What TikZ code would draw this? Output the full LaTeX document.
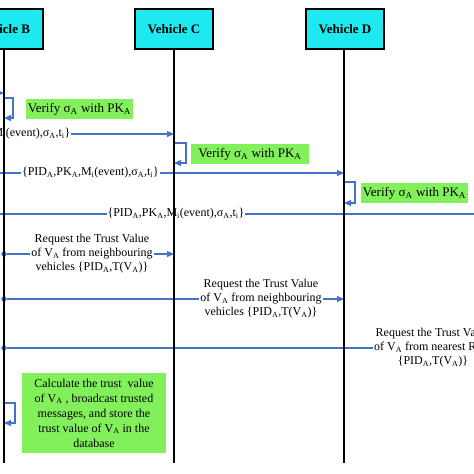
\documentclass[tikz,border=0pt]{standalone}
\usepackage{fontspec}
\setmainfont{Liberation Serif}
\usetikzlibrary{arrows.meta}
\definecolor{headcyan}{RGB}{30,232,240}
\definecolor{boxgreen}{RGB}{130,240,90}
\definecolor{msgblue}{RGB}{68,114,196}
\tikzset{
  headbox/.style={draw=black, line width=1.6pt, fill=headcyan, minimum width=78pt, minimum height=40pt, inner sep=0pt, font=\bfseries\fontsize{13}{15}\selectfont},
  lifeline/.style={draw=black, line width=1.6pt},
  msg/.style={draw=msgblue, line width=1.3pt, -{Triangle[length=7pt,width=6pt]}},
  plainmsg/.style={draw=msgblue, line width=1.3pt},
  lbl/.style={fill=white, inner sep=1pt, align=center, font=\fontsize{12}{14}\selectfont},
  greenbox/.style={fill=boxgreen, inner sep=0pt, align=center, font=\fontsize{12}{15}\selectfont},
  verifytext/.style={font=\fontsize{13}{15}\selectfont},
  startdot/.style={circle, fill=msgblue, inner sep=0pt, minimum size=5.5pt},
}
\begin{document}
\begin{tikzpicture}[x=1pt, y=-1pt]
\useasboundingbox (0,0) rectangle (474,474);
\clip (0,0) rectangle (474,474);
\fill[white] (0,0) rectangle (474,474);
% headers
\node[headbox] (hB) at (4,29) {Vehicle B};
\node[headbox] (hC) at (174,29) {Vehicle C};
\node[headbox] (hD) at (345,29) {Vehicle D};
\coordinate (Bend) at (4,463);
\coordinate (Cend) at (174,463);
\coordinate (Dend) at (344,463);
% points
\coordinate (a0) at (-40,93);
\coordinate (b0) at (4,93);
\coordinate (b1) at (4,98);
\coordinate (b2) at (4,118);
\coordinate (a1) at (-150,134);
\coordinate (c0) at (174,134);
\coordinate (c1) at (174,143);
\coordinate (c2) at (174,163);
\coordinate (a2) at (-150,173);
\coordinate (d0) at (344,173);
\coordinate (d1) at (344,182);
\coordinate (d2) at (344,203);
\coordinate (a3) at (-150,214);
\coordinate (e3) at (600,214);
\coordinate (c4) at (174,254);
\coordinate (d5) at (344,299);
\coordinate (r6) at (600,348);
\coordinate (b7) at (4,403);
\coordinate (b8) at (4,423);
% message to B
\draw[msg] (a0) -- (b0);
\draw[msg] (b1) -- ++(9,0) |- (b2);
\node[greenbox, verifytext, minimum width=107pt, minimum height=20pt] (vB) at (79.5,109) {Verify σ\textsubscript{A} with PK\textsubscript{A}};
% message to C
\draw[msg] (a1) -- (c0);
\node[lbl] (m1) at (2,134) {\{PID\textsubscript{A},PK\textsubscript{A},M\textsubscript{i}(event),σ\textsubscript{A},t\textsubscript{i}\}};
\draw[msg] (c1) -- ++(12,0) |- (c2);
\node[greenbox, verifytext, minimum width=118pt, minimum height=20pt] (vC) at (250,154) {Verify σ\textsubscript{A} with PK\textsubscript{A}};
% message to D
\draw[msg] (a2) -- (d0);
\node[lbl] (m2) at (90.5,173) {\{PID\textsubscript{A},PK\textsubscript{A},M\textsubscript{i}(event),σ\textsubscript{A},t\textsubscript{i}\}};
\draw[msg] (d1) -- ++(11,0) |- (d2);
\node[greenbox, verifytext, minimum width=107pt, minimum height=20pt] (vD) at (414.5,193) {Verify σ\textsubscript{A} with PK\textsubscript{A}};
% message onwards
\draw[plainmsg] (a3) -- (e3);
\node[lbl] (m3) at (176,214) {\{PID\textsubscript{A},PK\textsubscript{A},M\textsubscript{i}(event),σ\textsubscript{A},t\textsubscript{i}\}};
% requests
\node[startdot] (s1) at (4,254) {};
\draw[msg] (s1) -- (c4);
\node[lbl] (q1) at (92,254) {Request the Trust Value\\of V\textsubscript{A} from neighbouring\\vehicles \{PID\textsubscript{A},T(V\textsubscript{A})\}};
\node[startdot] (s2) at (4,299) {};
\draw[msg] (s2) -- (d5);
\node[lbl] (q2) at (261,299) {Request the Trust Value\\of V\textsubscript{A} from neighbouring\\vehicles \{PID\textsubscript{A},T(V\textsubscript{A})\}};
\node[startdot] (s3) at (4,348) {};
\draw[msg] (s3) -- (r6);
\node[lbl] (q3) at (433,348) {Request the Trust Value\\of V\textsubscript{A} from nearest RSU\\\{PID\textsubscript{A},T(V\textsubscript{A})\}};
% final
\draw[msg] (b7) -- ++(11,0) |- (b8);
\node[greenbox, minimum width=144pt, minimum height=80pt] (calc) at (94,413) {Calculate the trust\ \ value\\of V\textsubscript{A} , broadcast trusted\\messages, and store the\\trust value of V\textsubscript{A} in the\\database};
% lifelines
\draw[lifeline] (hB.south) -- (Bend);
\draw[lifeline] (hC.south) -- (Cend);
\draw[lifeline] (hD.south -| Dend) -- (Dend);
\end{tikzpicture}
\end{document}
